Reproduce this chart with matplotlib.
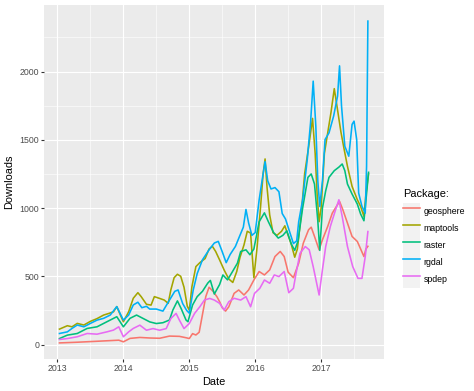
"""
plot.py - daily downloads of R spatial packages (ggplot-style line chart)
"""
import numpy as np
import pandas as pd
import matplotlib
matplotlib.use('Agg')
import matplotlib.pyplot as plt
import matplotlib.dates as mdates
from matplotlib.patches import Rectangle
from matplotlib.lines import Line2D

# ---------------------------------------------------------------------------
# Data (time in decimal years)
# ---------------------------------------------------------------------------
packages = ['geosphere', 'maptools', 'raster', 'rgdal', 'spdep']
colors = ['#F8766D', '#A3A500', '#00BF7D', '#00B0F6', '#E76BF3']

geosphere_t = [2013.03, 2013.3, 2013.6, 2013.93, 2014.0, 2014.1, 2014.25, 2014.4,
               2014.55, 2014.7, 2014.85, 2014.95, 2015.0, 2015.05, 2015.1, 2015.15,
               2015.2, 2015.25, 2015.3, 2015.36, 2015.42, 2015.46, 2015.5, 2015.55,
               2015.6, 2015.68, 2015.75, 2015.83, 2015.9, 2015.98, 2016.06, 2016.14,
               2016.22, 2016.3, 2016.38, 2016.44, 2016.5, 2016.58, 2016.66, 2016.73,
               2016.81, 2016.85, 2016.9, 2016.97, 2017.02, 2017.1, 2017.17, 2017.25,
               2017.28, 2017.33, 2017.4, 2017.47, 2017.55, 2017.6, 2017.65, 2017.68,
               2017.71]
geosphere_v = [12, 17, 24, 32, 20, 45, 52, 48,
               46, 62, 60, 50, 44, 80, 70, 90,
               220, 351, 420, 390, 350, 314, 270, 245,
               277, 375, 400, 363, 400, 473, 535, 510,
               547, 645, 682, 645, 530, 490, 596, 743,
               841, 860, 792, 694, 767, 865, 963, 1025,
               1049, 988, 890, 792, 755, 700, 645, 700,
               720]

maptools_t = [2013.03, 2013.15, 2013.22, 2013.3, 2013.4, 2013.5, 2013.6, 2013.7,
              2013.78, 2013.85, 2013.9, 2013.96, 2014.0, 2014.08, 2014.15, 2014.22,
              2014.27, 2014.35, 2014.42, 2014.47, 2014.55, 2014.62, 2014.68, 2014.72,
              2014.77, 2014.82, 2014.87, 2014.92, 2014.97, 2015.0, 2015.04, 2015.1,
              2015.16, 2015.24, 2015.3, 2015.35, 2015.4, 2015.46, 2015.53, 2015.6,
              2015.66, 2015.72, 2015.77, 2015.83, 2015.88, 2015.93, 2015.98, 2016.03,
              2016.08, 2016.12, 2016.15, 2016.18, 2016.22, 2016.27, 2016.33, 2016.4,
              2016.45, 2016.5, 2016.55, 2016.6, 2016.64, 2016.7, 2016.75, 2016.82,
              2016.87, 2016.91, 2016.94, 2016.97, 2017.0, 2017.05, 2017.1, 2017.15,
              2017.2, 2017.24, 2017.3, 2017.35, 2017.4, 2017.47, 2017.55, 2017.6,
              2017.65, 2017.68, 2017.72]
maptools_v = [113, 138, 130, 155, 143, 170, 190, 216,
              228, 240, 278, 210, 167, 240, 339, 380,
              351, 295, 289, 351, 338, 326, 302, 400,
              490, 515, 500, 420, 280, 252, 424, 571,
              600, 630, 700, 720, 682, 620, 545, 480,
              455, 535, 640, 730, 830, 817, 490, 719,
              1000, 1250, 1360, 1150, 950, 820, 800, 830,
              870, 800, 730, 640, 700, 960, 1250, 1478,
              1657, 1400, 1100, 900, 1000, 1400, 1550, 1700,
              1875, 1750, 1560, 1430, 1306, 1159, 1061, 1012,
              939, 1100, 1250]

raster_t = [2013.03, 2013.15, 2013.3, 2013.45, 2013.6, 2013.75, 2013.9, 2014.0,
            2014.1, 2014.2, 2014.3, 2014.4, 2014.5, 2014.6, 2014.7, 2014.75,
            2014.82, 2014.88, 2014.95, 2014.98, 2015.05, 2015.12, 2015.2, 2015.28,
            2015.32, 2015.38, 2015.46, 2015.51, 2015.58, 2015.65, 2015.73, 2015.78,
            2015.86, 2015.92, 2015.98, 2016.06, 2016.14, 2016.2, 2016.28, 2016.35,
            2016.42, 2016.48, 2016.55, 2016.6, 2016.65, 2016.72, 2016.8, 2016.85,
            2016.9, 2016.95, 2016.98, 2017.02, 2017.07, 2017.12, 2017.2, 2017.27,
            2017.32, 2017.36, 2017.4, 2017.47, 2017.55, 2017.6, 2017.65, 2017.68,
            2017.72]
raster_v = [44, 69, 81, 118, 130, 167, 204, 130,
            192, 216, 191, 166, 154, 160, 180, 252,
            320, 260, 180, 167, 290, 351, 390, 450,
            470, 370, 440, 510, 474, 530, 596, 682,
            694, 658, 700, 900, 965, 900, 820, 780,
            800, 833, 735, 690, 760, 1000, 1225, 1250,
            1176, 907, 690, 1000, 1127, 1225, 1274, 1300,
            1323, 1274, 1176, 1103, 1029, 956, 907, 1054,
            1262]

rgdal_t = [2013.03, 2013.15, 2013.22, 2013.3, 2013.4, 2013.5, 2013.6, 2013.7,
           2013.8, 2013.9, 2013.95, 2014.0, 2014.08, 2014.15, 2014.22, 2014.28,
           2014.35, 2014.4, 2014.5, 2014.6, 2014.7, 2014.78, 2014.83, 2014.9,
           2014.96, 2015.0, 2015.06, 2015.12, 2015.2, 2015.3, 2015.38, 2015.44,
           2015.5, 2015.56, 2015.62, 2015.7, 2015.76, 2015.82, 2015.86, 2015.9,
           2015.95, 2016.0, 2016.06, 2016.12, 2016.15, 2016.19, 2016.24, 2016.3,
           2016.36, 2016.41, 2016.46, 2016.52, 2016.58, 2016.63, 2016.66, 2016.72,
           2016.79, 2016.84, 2016.88, 2016.92, 2016.95, 2016.98, 2017.02, 2017.06,
           2017.12, 2017.19, 2017.25, 2017.28, 2017.31, 2017.36, 2017.42, 2017.47,
           2017.5, 2017.54, 2017.57, 2017.62, 2017.67, 2017.69, 2017.71]
rgdal_v = [81, 93, 118, 143, 130, 155, 179, 192,
           216, 278, 228, 179, 216, 290, 310, 270,
           280, 260, 260, 245, 326, 390, 400, 300,
           250, 230, 400, 520, 621, 694, 744, 756,
           680, 600, 660, 719, 790, 860, 990, 891,
           800, 820, 1060, 1250, 1340, 1200, 1140, 1150,
           1120, 960, 920, 830, 740, 760, 900, 1061,
           1355, 1625, 1930, 1600, 1200, 1012, 1200, 1502,
           1551, 1674, 1821, 2042, 1748, 1453, 1380, 1613,
           1637, 1502, 1110, 1012, 963, 1306, 2370]

spdep_t = [2013.03, 2013.15, 2013.3, 2013.45, 2013.6, 2013.75, 2013.85, 2013.93,
           2014.0, 2014.08, 2014.15, 2014.25, 2014.35, 2014.45, 2014.55, 2014.65,
           2014.72, 2014.8, 2014.85, 2014.92, 2014.97, 2015.0, 2015.08, 2015.16,
           2015.23, 2015.31, 2015.38, 2015.46, 2015.53, 2015.6, 2015.68, 2015.78,
           2015.86, 2015.93, 2015.99, 2016.07, 2016.14, 2016.22, 2016.29, 2016.36,
           2016.44, 2016.51, 2016.58, 2016.62, 2016.68, 2016.76, 2016.82, 2016.88,
           2016.97, 2017.02, 2017.07, 2017.14, 2017.22, 2017.27, 2017.32, 2017.4,
           2017.48, 2017.56, 2017.62, 2017.67, 2017.71]
spdep_v = [37, 44, 57, 81, 76, 93, 106, 130,
           57, 93, 118, 142, 105, 117, 105, 117,
           191, 228, 179, 117, 140, 154, 228, 277,
           326, 338, 326, 302, 253, 314, 339, 326,
           351, 277, 375, 412, 473, 449, 510, 498,
           535, 380, 412, 522, 669, 718, 694, 571,
           363, 547, 718, 865, 988, 1061, 939, 718,
           571, 485, 485, 645, 828]

year_ticks = [2013, 2014, 2015, 2016, 2017]
y_ticks = [0, 500, 1000, 1500, 2000]

series = [(geosphere_t, geosphere_v), (maptools_t, maptools_v),
          (raster_t, raster_v), (rgdal_t, rgdal_v), (spdep_t, spdep_v)]


def to_date(yrs):
    """decimal year -> datetime"""
    yrs = np.atleast_1d(np.asarray(yrs, dtype=float))
    return pd.Timestamp('2013-01-01') + pd.to_timedelta((yrs - 2013) * 365.25, unit='D')


# ---------------------------------------------------------------------------
# Plot (theme_grey look)
# ---------------------------------------------------------------------------
plt.rcParams['font.family'] = ['Liberation Sans', 'DejaVu Sans']
fig = plt.figure(figsize=(4.74, 3.91), dpi=100)
ax = fig.add_axes([44 / 474, 1 - 359 / 391, 340 / 474, 354 / 391])
ax.set_facecolor('#EBEBEB')

handles = []
for name, col, (t, v) in zip(packages, colors, series):
    ax.plot(to_date(t), v, color=col, lw=1.15, label=name, zorder=3)
    # legend key: grey95 square with the coloured line on top
    handles.append((Rectangle((0, 0), 1, 1, fc='#F2F2F2', ec='none'),
                    Line2D([], [], color=col, lw=1.15)))

# limits with ggplot's 5% expansion
all_t = np.concatenate([s[0] for s in series])
all_v = np.concatenate([s[1] for s in series])
t0, t1 = all_t.min(), all_t.max()
v0, v1 = all_v.min(), all_v.max()
ax.set_xlim(to_date(t0 - 0.05 * (t1 - t0))[0], to_date(t1 + 0.05 * (t1 - t0))[0])
ax.set_ylim(v0 - 0.05 * (v1 - v0), v1 + 0.05 * (v1 - v0))

ax.set_xticks(to_date(year_ticks))
ax.xaxis.set_major_formatter(mdates.DateFormatter('%Y'))
ax.set_xticks(to_date([y + 0.5 for y in year_ticks]), minor=True)
ax.set_yticks(y_ticks)
ax.set_yticks([250, 750, 1250, 1750, 2250], minor=True)

ax.grid(which='major', color='white', lw=0.8, zorder=0)
ax.grid(which='minor', color='white', lw=0.4, zorder=0)
ax.set_axisbelow(True)
for s in ax.spines.values():
    s.set_visible(False)
ax.tick_params(which='major', length=2, width=0.8, color='#333333',
               labelsize=6.3, labelcolor='#4D4D4D', pad=1.5)
ax.tick_params(which='minor', length=0)

ax.set_xlabel('Date', fontsize=7.9, labelpad=3)
ax.set_ylabel('Downloads', fontsize=7.9, labelpad=4)

leg = ax.legend(handles, packages, title='Package:', loc='center left',
                bbox_to_anchor=(1.056, 0.341), frameon=False,
                fontsize=6.3, title_fontsize=7.9,
                handlelength=1.95, handleheight=2.61, handletextpad=0.4,
                labelspacing=0.0, alignment='left', borderaxespad=0,
                borderpad=0)
leg._legend_box.sep = 3  # a little air between title and keys

fig.savefig('out.png', dpi=100, facecolor='white')
plt.close(fig)
